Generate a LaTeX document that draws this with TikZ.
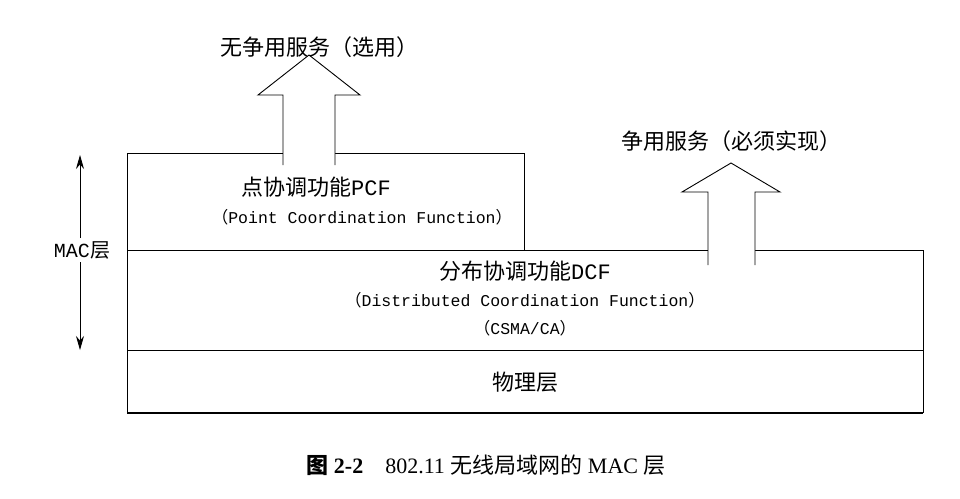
\documentclass[tikz,border=0pt]{standalone}
\usepackage{fontspec}
\usetikzlibrary{arrows.meta}
\setmainfont{Liberation Serif}
\newfontfamily\cjk{Noto Sans CJK SC}
\newfontfamily\mono{Liberation Mono}
\begin{document}
\begin{tikzpicture}[x=1pt,y=-1pt,
  box/.style={draw,line width=0.9pt},
  lbl/.style={inner sep=0pt,font=\cjk\fontsize{22}{26}\selectfont},
  mlbl/.style={inner sep=0pt,font=\mono\fontsize{16.5}{22}\selectfont},
  harrow/.style={draw,fill=white,line width=0.9pt,line join=miter}]
\useasboundingbox (0,0) rectangle (960,498);
% boxes
\draw[box] (127,250) -- (127,153) -- (524,153) -- (524,250);
\draw[box] (127,250) rectangle (923,350);
\draw[box] (127,350) -- (127,413);
\draw[box] (923,350) -- (923,413);
\draw[line width=1.4pt] (127,413) -- (923,413);
% hollow arrows
\draw[harrow] (283,165) -- (283,95) -- (258,95) -- (309,55) -- (360,95) -- (335,95) -- (335,165);
\draw[harrow] (708,265) -- (708,192) -- (682,192) -- (731,163) -- (780,192) -- (755,192) -- (755,265);
% texts
\node[lbl] (t1) at (319,47) {无争用服务（选用）};
\node[lbl] (t2) at (731,141) {争用服务（必须实现）};
\node[lbl] (p1) at (316,187) {点协调功能{\mono PCF}};
\node[mlbl] (p2) at (362,217) {{\cjk （}Point Coordination Function{\cjk ）}};
\node[lbl] (d1) at (525,271) {分布协调功能{\mono DCF}};
\node[mlbl] (d2) at (525,300) {{\cjk （}Distributed Coordination Function{\cjk ）}};
\node[mlbl] (d3) at (525,328) {{\cjk （}CSMA/CA{\cjk ）}};
\node[lbl] (ph) at (525,382) {物理层};
\node[inner sep=1pt,font=\fontsize{20}{24}\selectfont] (mac) at (82,250) {{\mono MAC}{\cjk 层}};
\coordinate (mt) at (80,155);
\coordinate (mb) at (80,350);
\draw[-{Stealth[length=14pt,width=8pt]},line width=0.9pt] (80,238) -- (mt);
\draw[-{Stealth[length=14pt,width=8pt]},line width=0.9pt] (80,262) -- (mb);
\node[inner sep=0pt,font=\fontsize{22}{26}\selectfont] (cap) at (486,465) {{\cjk\bfseries 图} \textbf{2-2}\quad 802.11 {\cjk 无线局域网的} MAC {\cjk 层}};
\end{tikzpicture}
\end{document}
